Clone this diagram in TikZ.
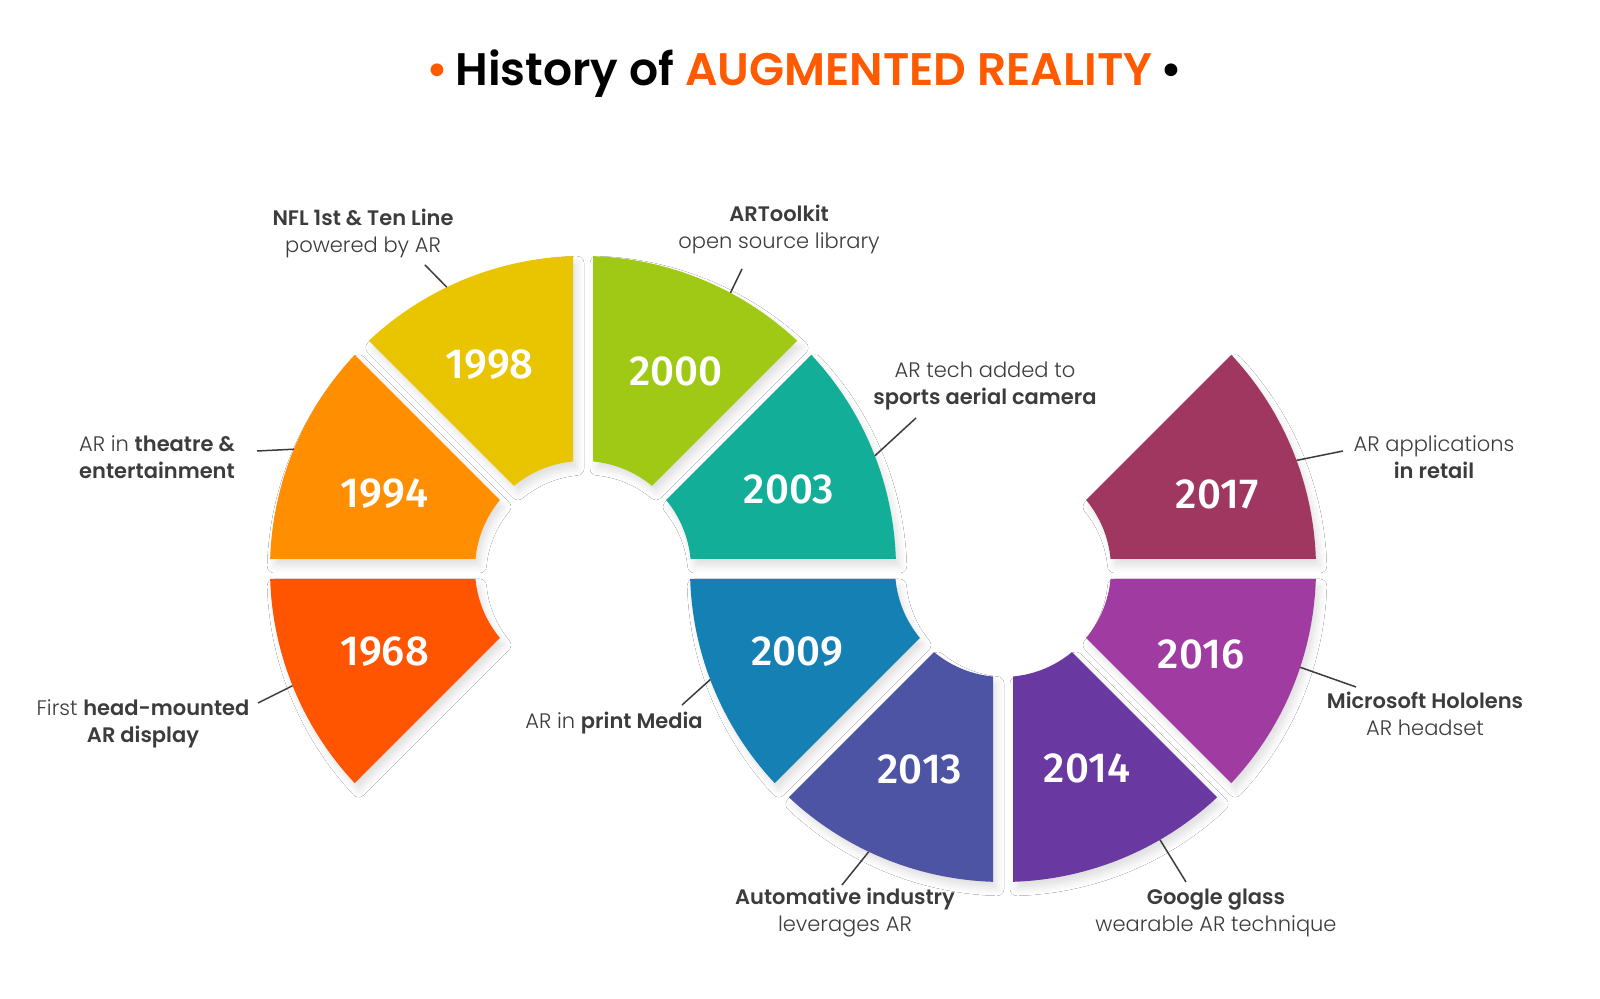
\documentclass[tikz,border=0pt]{standalone}
\usepackage{fontspec}
\setmainfont{Poppins}[UprightFont=* Light, BoldFont=* SemiBold]
\newfontfamily\titlefont{Poppins}[UprightFont=* SemiBold]
\newfontfamily\yearfont{Fira Sans}[UprightFont=* Medium]
\usetikzlibrary{calc,shadows.blur}

\definecolor{c1968}{HTML}{FF5400}
\definecolor{c1994}{HTML}{FF8F00}
\definecolor{c1998}{HTML}{E9C400}
\definecolor{c2000}{HTML}{A0C916}
\definecolor{c2003}{HTML}{12AE98}
\definecolor{c2009}{HTML}{1580B4}
\definecolor{c2013}{HTML}{4D54A4}
\definecolor{c2014}{HTML}{6938A0}
\definecolor{c2016}{HTML}{A03BA2}
\definecolor{c2017}{HTML}{A03760}
\definecolor{txt}{HTML}{3C3C3C}
\definecolor{ttl}{HTML}{FF5A00}

\tikzset{
  seg/.style={fill=#1, blur shadow={shadow xshift=2pt, shadow yshift=-3.5pt, shadow blur radius=3.5pt, shadow opacity=12}},
  year/.style={text=white, font=\yearfont\fontsize{21}{21}\selectfont, inner sep=0pt},
  lbl/.style={text=txt, font=\fontsize{10.5}{13.5}\selectfont, align=center, inner sep=0pt},
  leader/.style={draw=txt, line width=0.75pt},
}

\newcommand\drawseg[4]{%
  \fill[seg=#4] ($(#1)+(#2+1.831:313)$) arc[start angle=#2+1.831, end angle=#3-1.831, radius=313]
    -- ($(#1)+(#3-5.313:108)$) arc[start angle=#3-5.313, end angle=#2+5.313, radius=108] -- cycle;
}

\begin{document}
\begin{tikzpicture}[x=0.5pt,y=0.5pt]
\useasboundingbox (0,0) rectangle (1600,999);
\fill[white] (0,0) rectangle (1600,999);

\coordinate (L) at (583,430);
\coordinate (M) at (1003,430);

% title
\node[font=\titlefont\fontsize{22.8}{22.8}\selectfont, inner sep=0pt] (title) at (804,925)
  {{\color{ttl}•}\,History of {\color{ttl}AUGMENTED REALITY}\,•};

% segments
\drawseg{L}{180}{225}{c1968}
\drawseg{L}{135}{180}{c1994}
\drawseg{L}{90}{135}{c1998}
\drawseg{L}{45}{90}{c2000}
\drawseg{L}{0}{45}{c2003}
\drawseg{M}{180}{225}{c2009}
\drawseg{M}{225}{270}{c2013}
\drawseg{M}{270}{315}{c2014}
\drawseg{M}{315}{360}{c2016}
\drawseg{M}{0}{45}{c2017}

% years
\node[year] (y1968) at (384.5,347) {1968};
\node[year] (y1994) at (384.5,505) {1994};
\node[year] (y1998) at (489.5,634.5) {1998};
\node[year] (y2000) at (676,628) {2000};
\node[year] (y2003) at (789,510) {2003};
\node[year] (y2009) at (797,347) {2009};
\node[year] (y2013) at (920,230) {2013};
\node[year] (y2014) at (1087,231) {2014};
\node[year] (y2016) at (1201,345) {2016};
\node[year] (y2017) at (1217,505) {2017};

% labels
\node[lbl] (l1998) at (363,766) {\textbf{NFL 1st \& Ten Line}\\powered by AR};
\node[lbl] (l2000) at (779,770) {\textbf{ARToolkit}\\open source library};
\node[lbl] (l2003) at (985,613) {AR tech added to\\\textbf{sports aerial camera}};
\node[lbl] (l1994) at (157,542) {AR in \textbf{theatre \&}\\\textbf{entertainment}};
\node[lbl] (l1968) at (143,275.5) {First \textbf{head-mounted}\\\textbf{AR display}};
\node[lbl] (l2009) at (614,276) {AR in \textbf{print Media}};
\node[lbl] (l2013) at (845,86) {\textbf{Automative industry}\\leverages AR};
\node[lbl] (l2014) at (1216,86) {\textbf{Google glass}\\wearable AR technique};
\node[lbl] (l2016) at (1425,285) {\textbf{Microsoft Hololens}\\AR headset};
\node[lbl] (l2017) at (1434,542) {AR applications\\\textbf{in retail}};

% leader ends
\coordinate (o1998) at (425,734);  \coordinate (s1998) at ($(L)+(115.8:313)$);
\coordinate (o2000) at (742,730);  \coordinate (s2000) at ($(L)+(61.9:313)$);
\coordinate (o2003) at (916,581);  \coordinate (s2003) at ($(L)+(21.2:313)$);
\coordinate (o1994) at (257,548);  \coordinate (s1994) at ($(L)+(157.5:313)$);
\coordinate (o1968) at (258,296);  \coordinate (s1968) at ($(L)+(201.9:313)$);
\coordinate (o2009) at (682,294);  \coordinate (s2009) at ($(M)+(200.7:313)$);
\coordinate (o2013) at (842,114);  \coordinate (s2013) at ($(M)+(244.6:313)$);
\coordinate (o2014) at (1186,117); \coordinate (s2014) at ($(M)+(300.1:313)$);
\coordinate (o2016) at (1356,312); \coordinate (s2016) at ($(M)+(341.7:313)$);
\coordinate (o2017) at (1343,548); \coordinate (s2017) at ($(M)+(20.3:313)$);

\foreach \k in {1998,2000,2003,1994,1968,2009,2013,2014,2016,2017}
  \draw[leader] (o\k) -- (s\k);
\end{tikzpicture}
\end{document}
